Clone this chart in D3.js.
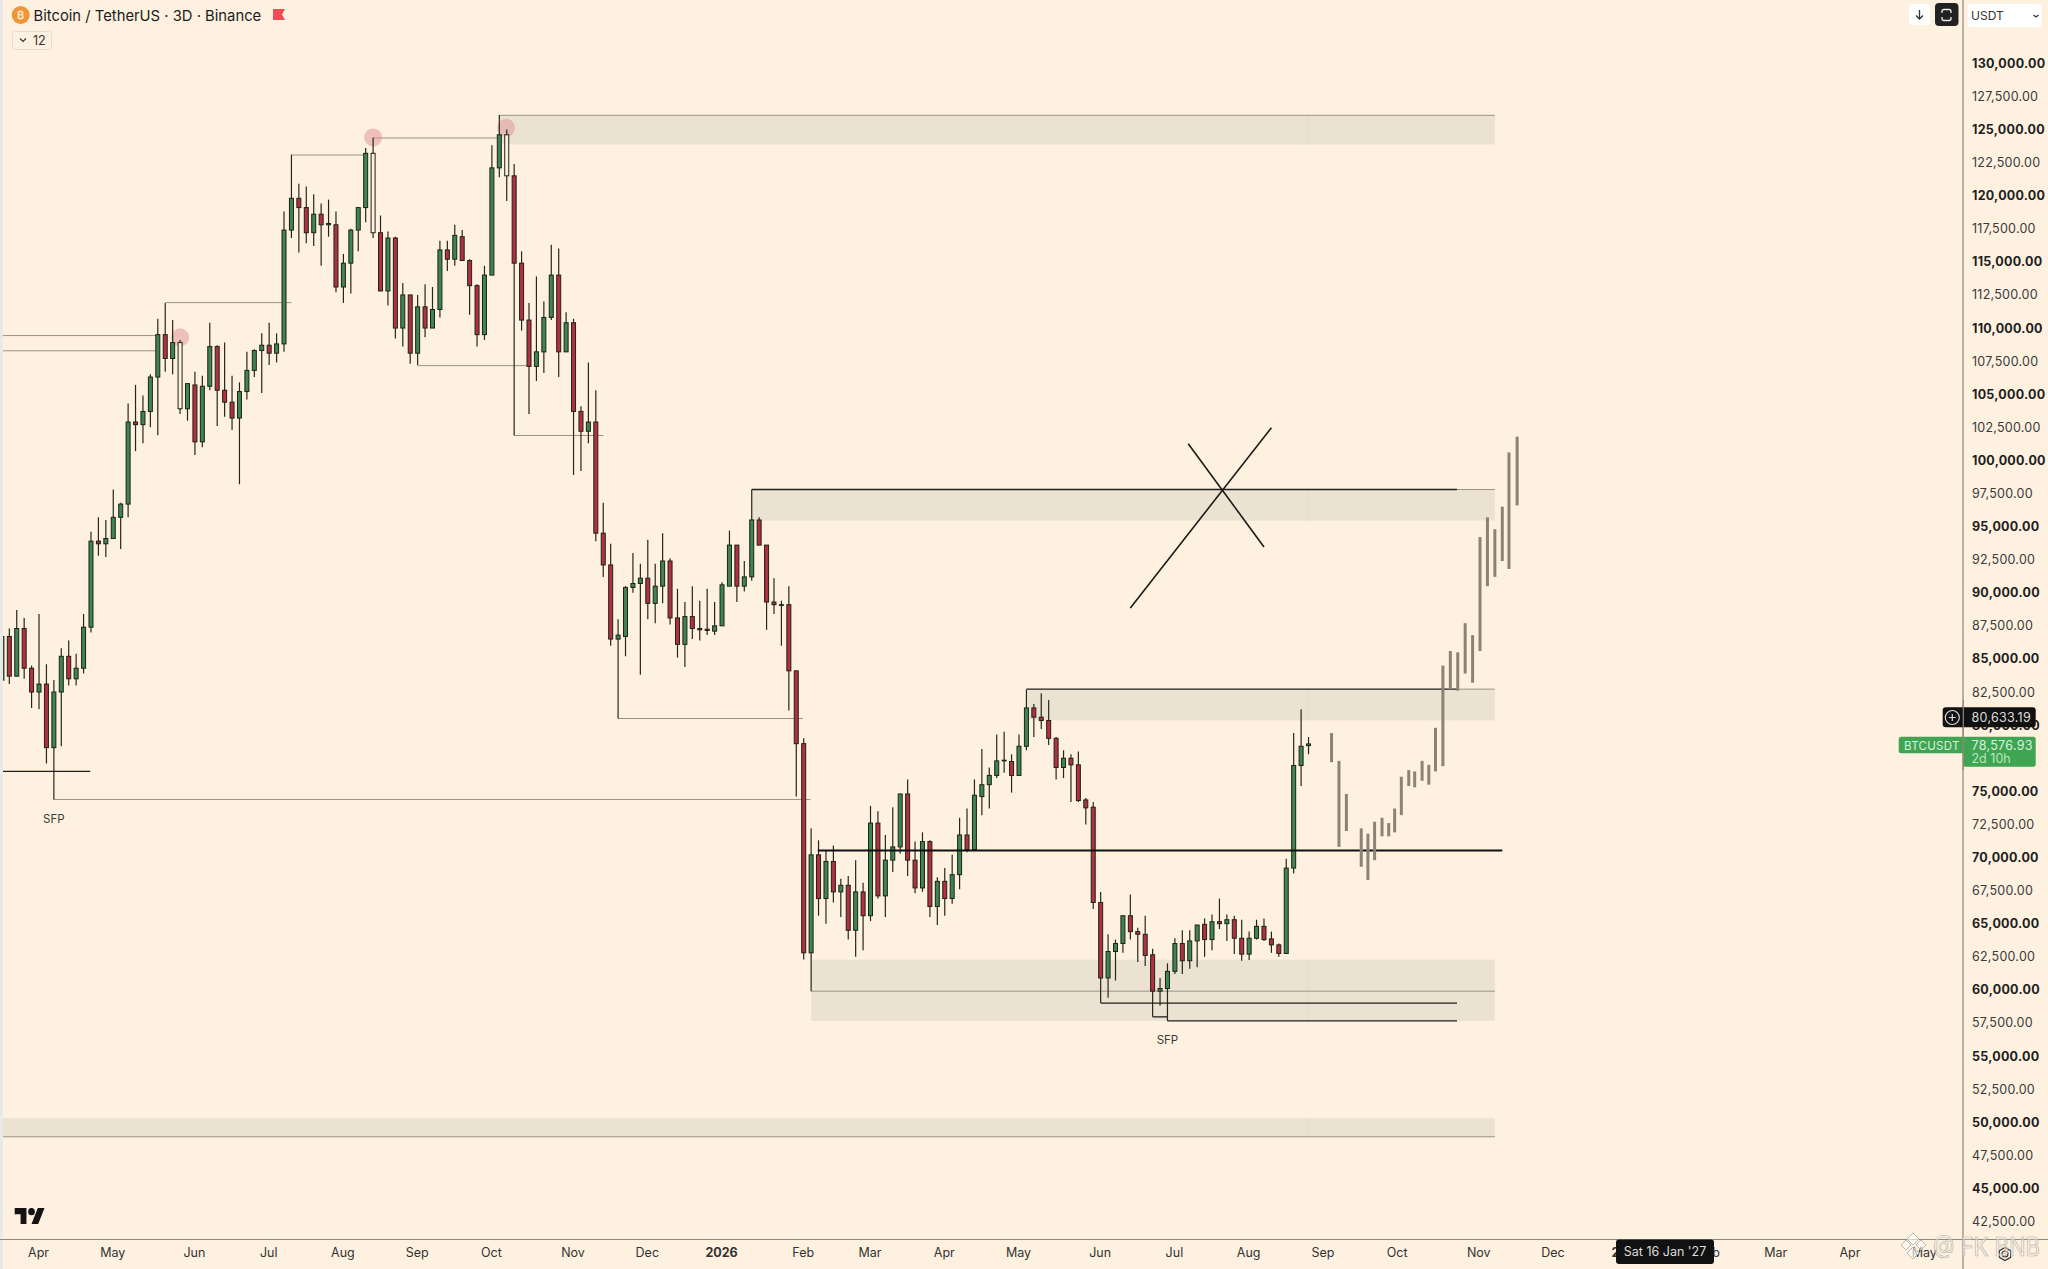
<!DOCTYPE html>
<html>
<head>
<meta charset="utf-8">
<title>BTCUSDT 3D</title>
<script src="https://cdn.jsdelivr.net/npm/d3@7"></script>
<style>
  html, body { margin: 0; padding: 0; background: #fef1e0; }
  svg { display: block; }
  text { font-family: Inter, "Noto Sans", sans-serif; }
</style>
</head>
<body>
<div id="chart"></div>
<script>
// OHLC values, in thousands of USDT
const opens = [
  83.4,86.7,83.7,87.3,84.3,82.5,83.1,78.3,82.5,85.2,
  83.5,84.3,87.4,93.9,93.7,94.1,95.7,96.7,102.9,102.7,
  103.7,106.3,109.5,107.7,103.9,103.9,105.7,101.4,105.6,108.6,
  105.3,104.4,103.2,105.2,106.8,108.3,108.7,108.1,108.8,117.4,
  119.8,119.1,117.2,118.6,117.8,117.8,113.1,114.9,117.4,119.1,
  117.2,117.2,112.8,116.8,110.0,112.5,108.1,111.6,110.0,111.4,
  115.9,115.2,116.9,115.1,113.2,109.5,114.0,122.1,121.5,121.5,
  114.9,110.6,107.1,108.2,110.8,114.0,108.2,110.4,103.7,102.2,
  102.9,94.5,92.1,86.5,86.7,90.4,90.7,91.1,89.2,90.5,
  92.4,88.1,86.1,88.2,87.3,87.25,87.1,87.5,90.5,93.6,
  90.5,91.2,95.5,93.6,89.3,89.1,89.1,84.1,78.6,62.8,
  70.2,66.9,69.7,67.4,67.9,64.5,67.4,65.6,72.6,67.1,
  69.8,70.8,74.8,69.8,67.7,71.2,66.3,68.2,66.9,68.7,
  71.7,70.6,74.6,75.5,76.2,77.35,77.25,76.2,78.4,81.3,
  80.6,80.35,79.0,76.8,77.5,77.0,74.35,73.8,66.6,60.9,
  62.9,63.5,65.6,64.4,64.2,62.65,59.9,60.1,61.4,63.5,
  62.2,63.7,64.95,63.8,65.15,65.0,65.3,63.9,62.7,63.9,
  64.8,63.85,63.4,62.75,69.2,76.95,78.45
];
const closes = [
  86.7,83.7,87.3,84.3,82.5,83.1,78.3,82.5,85.2,83.5,
  84.3,87.4,93.9,93.7,94.1,95.7,96.7,102.9,102.7,103.7,
  106.3,109.5,107.7,108.9,108.9,105.8,101.4,105.6,108.6,105.3,
  104.4,103.2,105.2,106.8,108.3,108.7,108.1,108.8,117.4,119.8,
  119.1,117.2,118.6,117.8,117.9,113.1,114.9,117.4,119.1,123.2,
  123.2,112.8,116.8,110.0,112.5,108.1,111.6,110.0,111.4,115.9,
  115.2,117.0,115.1,113.2,109.5,114.0,122.1,124.6,124.6,114.9,
  110.6,107.1,108.2,110.8,114.0,108.2,110.4,103.7,102.2,102.9,
  94.5,92.1,86.5,86.8,90.4,90.7,91.1,89.2,90.5,92.4,
  88.1,86.1,88.2,87.3,87.2,87.15,87.5,90.6,93.6,90.5,
  91.2,95.5,93.6,89.3,89.1,89.05,84.1,78.6,62.8,70.2,
  66.9,69.7,67.4,67.9,64.5,67.4,65.6,72.6,67.1,69.8,
  70.8,74.8,69.8,67.7,71.2,66.3,68.2,66.9,68.7,71.7,
  70.6,74.7,75.5,76.2,77.3,77.3,76.2,78.4,81.3,80.6,
  80.35,79.0,76.8,77.5,77.0,74.3,73.75,66.6,60.9,62.9,
  63.5,65.6,64.4,64.2,62.6,59.9,60.1,61.4,63.5,62.2,
  63.7,64.9,63.8,65.15,65.0,65.3,63.9,62.7,63.9,64.8,
  63.8,63.4,62.75,69.2,76.95,78.4,78.58
];
const highs = [
  86.9,87.3,88.7,88.1,84.5,88.4,84.6,83.4,85.8,86.4,
  85.4,88.4,94.6,95.7,95.5,97.8,96.8,104.3,105.7,104.9,
  106.5,110.7,111.9,110.6,109.1,105.8,106.7,106.4,110.4,108.7,
  108.9,106.4,105.9,108.2,108.4,109.6,110.4,109.6,118.8,123.1,
  120.9,120.7,120.1,119.4,119.7,118.8,115.6,117.5,119.1,123.6,
  124.4,118.5,117.3,116.9,113.4,112.5,112.5,113.3,113.1,116.6,
  116.6,117.8,117.4,115.2,113.3,114.7,123.8,126.1,125.0,122.4,
  115.8,111.9,113.9,112.0,116.3,116.0,111.2,110.7,104.1,107.4,
  105.3,96.8,93.7,88.0,90.5,93.0,92.2,94.0,92.2,94.5,
  92.6,90.3,89.3,90.5,89.4,90.3,89.3,90.8,94.7,93.6,
  92.4,97.8,95.7,93.6,91.1,89.4,90.5,84.1,79.0,72.2,
  71.3,70.5,70.9,68.4,68.6,69.8,68.1,73.9,73.5,71.7,
  73.8,74.8,75.9,71.2,71.9,71.3,68.5,69.2,70.2,73.0,
  73.7,75.9,78.2,76.8,79.3,79.5,77.8,79.3,82.7,81.6,
  82.4,81.9,79.1,78.1,77.8,78.0,74.5,74.2,67.4,64.2,
  63.8,65.6,67.2,64.7,65.6,63.1,60.9,62.0,63.9,64.5,
  64.5,64.9,65.4,65.7,66.9,65.7,65.6,65.3,64.4,65.3,
  65.4,64.4,63.5,69.9,79.4,81.2,79.1
];
const lows = [
  82.4,83.1,83.7,83.5,81.3,81.2,77.1,74.38,78.4,83.0,
  83.0,83.9,87.0,92.8,92.7,94.1,93.3,95.7,100.7,101.3,
  102.5,101.9,106.7,106.5,103.5,103.0,100.4,101.0,105.3,102.6,
  103.3,102.3,98.2,104.6,106.3,105.1,107.2,107.4,108.2,116.8,
  115.7,116.4,116.2,114.7,116.9,112.7,111.9,112.6,115.8,118.0,
  116.8,112.8,111.7,109.2,108.6,107.3,107.2,109.3,110.0,110.8,
  114.3,114.7,115.1,111.0,108.6,109.1,114.0,121.4,119.6,101.88,
  109.8,103.5,106.0,106.6,110.6,106.3,108.2,98.9,99.2,101.3,
  93.9,91.2,86.0,80.5,85.2,90.0,83.8,88.0,87.7,89.2,
  87.6,85.1,84.4,86.5,86.4,86.8,86.8,87.5,90.5,89.3,
  90.1,90.9,93.6,87.2,88.4,86.0,81.1,74.6,62.3,59.9,
  65.6,65.0,66.6,65.5,63.8,62.5,63.0,65.2,66.9,65.5,
  68.9,70.3,68.6,67.3,67.4,65.5,64.9,65.6,66.5,67.6,
  70.4,70.5,73.2,73.7,76.0,76.4,74.9,76.2,78.1,79.1,
  79.7,78.5,75.9,76.0,74.2,74.2,72.5,66.1,59.0,59.4,
  60.7,62.8,63.8,62.1,61.8,57.96,58.8,57.66,61.2,61.2,
  61.6,61.7,62.5,63.0,64.6,63.7,62.7,62.2,62.25,63.8,
  63.7,62.8,62.5,62.7,68.8,75.4,77.8
];
const hollowBars = [24, 50, 68];

// Hand drawn projection: bar slot, high, low
const projSlots = [179.1,180.1,181.1,183.1,184,184.9,185.9,186.8,187.6,188.5,189.5,190.3,191.3,192.2,193.1,194.1,195.1,196.1,197.1,198.1,199.1,200.1,201.1,202.1,203,204.1];
const projHighs = [79.4,77.3,74.8,72.2,71.8,72.7,73.0,72.6,73.7,76.1,76.6,76.5,77.3,77.0,79.8,84.5,85.6,85.5,87.7,86.8,94.2,95.7,94.8,96.5,100.6,101.8];
const projLows = [77.2,70.8,72.0,69.3,68.3,69.8,71.6,71.6,71.9,73.2,75.4,75.3,75.8,75.5,76.5,76.9,82.7,82.6,83.9,83.2,85.6,90.5,91.2,92.4,91.8,96.6];

// Supply / demand boxes: first bar, last bar, top, bottom
const zones = [
  [67, 201.1, 126.07, 123.87],
  [101, 201.1, 97.8, 95.45],
  [138, 201.1, 82.72, 80.36],
  [109, 201.1, 62.28, 57.66],
  [0, 201.1, 50.3, 48.9]
];

// Horizontal levels: first bar, last bar, price
const grayLevels = [
  [0, 20.9, 109.43], [0, 20.9, 108.28], [22, 39, 111.92], [39, 49.2, 123.07],
  [50, 67, 124.36], [56, 70.7, 107.16], [69, 81, 101.88], [83, 107.9, 80.5],
  [7, 108.9, 74.38], [109, 201.1, 59.9], [67, 201.1, 126.07], [196, 201.1, 97.8],
  [196, 201.1, 82.72], [0, 201.1, 48.9]
];
const blackLevels = [
  [0, 11.9, 76.5], [148, 196, 59.0], [157, 196, 57.66], [155, 157, 57.96],
  [101, 196, 97.8], [138, 196, 82.72]
];
const mainLevel = [109.9, 202.1, 70.52];

// The big X: two strokes, bar and price at each end
const crossStrokes = [
  [152, 88.85, 171, 102.47],
  [159.8, 101.26, 170, 93.46]
];
// Pink markers on the highs
const markers = [[24, 109.3], [50, 124.4], [67.9, 125.13]];

const priceTicks = [130,127.5,125,122.5,120,117.5,115,112.5,110,107.5,105,102.5,100,97.5,95,92.5,90,87.5,85,82.5,80,77.5,75,72.5,70,67.5,65,62.5,60,57.5,55,52.5,50,47.5,45,42.5];
const timeTicks = [5,15,26,36,46,56,66,77,87,97,108,117,127,137,148,158,168,178,188,199,209,219,230,239,249,259];
const timeLabels = ["Apr","May","Jun","Jul","Aug","Sep","Oct","Nov","Dec","2026","Feb","Mar","Apr","May","Jun","Jul","Aug","Sep","Oct","Nov","Dec","2027","Feb","Mar","Apr","May"];

const bg = "#fef1e0";
const width = 2048;
const height = 1269;

const svg = d3.select("#chart").append("svg").attr("width", width).attr("height", height);
svg.append("rect").attr("width", width).attr("height", height).attr("fill", bg);

// Scales
const x = d3.scaleLinear().domain([0, 260]).range([1.9, 1.9 + 260 * 7.424]);
const y = d3.scaleLinear().domain([130, 42.5]).range([63.3, 1221.5]);

// Zones
svg.append("g").selectAll("rect").data(zones).enter().append("rect")
  .attr("x", (d) => x(d[0]))
  .attr("width", (d) => x(d[1]) - x(d[0]))
  .attr("y", (d) => y(d[2]))
  .attr("height", (d) => y(d[3]) - y(d[2]))
  .attr("fill", "#ebe2d2");

// faint seam in the boxes
svg.append("g").selectAll("line").data(zones).enter().append("line")
  .attr("x1", x(176)).attr("x2", x(176))
  .attr("y1", (d) => y(d[2])).attr("y2", (d) => y(d[3]))
  .attr("stroke", "#e4dac8").attr("stroke-width", 1);

function drawLevels(data, color, w) {
  svg.append("g").selectAll("line").data(data).enter().append("line")
    .attr("x1", (d) => x(d[0]))
    .attr("x2", (d) => x(d[1]))
    .attr("y1", (d) => y(d[2]))
    .attr("y2", (d) => y(d[2]))
    .attr("stroke", color)
    .attr("stroke-width", w);
}
drawLevels(grayLevels, "#9a9385", 1);

// Pink circles
svg.append("g").selectAll("circle").data(markers).enter().append("circle")
  .attr("cx", (d) => x(d[0]))
  .attr("cy", (d) => y(d[1]))
  .attr("r", 9)
  .attr("fill", "#df8f95")
  .attr("opacity", 0.5);

// Candles
const candles = opens.map((o, i) => ({ i, o, c: closes[i], h: highs[i], l: lows[i], hollow: hollowBars.includes(i) }));
const cg = svg.append("g");
cg.selectAll(".wick").data(candles).enter().append("line")
  .attr("class", "wick")
  .attr("x1", (d) => x(d.i)).attr("x2", (d) => x(d.i))
  .attr("y1", (d) => y(d.h)).attr("y2", (d) => y(d.l))
  .attr("stroke", "#26261c")
  .attr("stroke-width", 1.2);
cg.selectAll(".body").data(candles).enter().append("rect")
  .attr("class", "body")
  .attr("x", (d) => x(d.i) - 2)
  .attr("width", 4)
  .attr("y", (d) => y(Math.max(d.o, d.c)))
  .attr("height", (d) => Math.max(0.5, Math.abs(y(d.o) - y(d.c))))
  .attr("fill", (d) => (d.hollow ? bg : d.c >= d.o ? "#3f8551" : "#b3303f"))
  .attr("stroke", "#1d2219")
  .attr("stroke-width", 1);

drawLevels(blackLevels, "#1f1f1a", 1.3);
drawLevels([mainLevel], "#111", 2);

// Projected path
svg.append("g").selectAll("line").data(projSlots).enter().append("line")
  .attr("x1", (d) => x(d)).attr("x2", (d) => x(d))
  .attr("y1", (d, i) => y(projHighs[i]))
  .attr("y2", (d, i) => y(projLows[i]))
  .attr("stroke", "#8b8375")
  .attr("stroke-width", 3);

// X mark
svg.append("g").selectAll("line").data(crossStrokes).enter().append("line")
  .attr("x1", (d) => x(d[0])).attr("y1", (d) => y(d[1]))
  .attr("x2", (d) => x(d[2])).attr("y2", (d) => y(d[3]))
  .attr("stroke", "#1a1a16")
  .attr("stroke-width", 1.6);

// SFP labels
svg.append("text").attr("x", x(7)).attr("y", y(74.38) + 23).attr("text-anchor", "middle")
  .attr("font-size", 11.5).attr("fill", "#3a3a36").text("SFP");
svg.append("text").attr("x", x(157)).attr("y", y(57.66) + 23).attr("text-anchor", "middle")
  .attr("font-size", 11.5).attr("fill", "#3a3a36").text("SFP");

// Left edge strip
svg.append("rect").attr("width", 3).attr("height", height).attr("fill", "#e9e9e9");

// Price axis
const yAxis = svg.append("g")
  .attr("transform", "translate(1963,0)")
  .call(d3.axisRight(y).tickValues(priceTicks).tickSize(0).tickPadding(9)
    .tickFormat((d) => d3.format(",.2f")(d * 1000)));
yAxis.select(".domain").attr("stroke", "#8e887c").attr("stroke-width", 1.2).attr("d", "M0,0V1269");
yAxis.selectAll("text")
  .attr("font-family", "Inter, sans-serif")
  .attr("font-size", 12.5)
  .attr("letter-spacing", 0.25)
  .attr("font-weight", (d) => (d % 5 === 0 ? 700 : 400))
  .attr("fill", (d) => (d % 5 === 0 ? "#1e1e1e" : "#3a3a3a"));

// Time axis
const xAxis = svg.append("g")
  .attr("transform", "translate(-1,1239.5)")
  .call(d3.axisBottom(x).tickValues(timeTicks).tickSize(0).tickPadding(9)
    .tickFormat((d, i) => timeLabels[i]));
xAxis.select(".domain").attr("stroke", "#8e887c").attr("stroke-width", 1.2).attr("d", "M0,0H2049");
xAxis.selectAll("text")
  .attr("font-family", "Inter, sans-serif")
  .attr("font-size", 12.5)
  .attr("font-weight", (d, i) => (/^\d/.test(timeLabels[i]) ? 700 : 400))
  .attr("fill", "#333");

// Crosshair date
svg.append("rect").attr("x", 1616).attr("y", 1239.5).attr("width", 98).attr("height", 24.5).attr("rx", 3).attr("fill", "#111");
svg.append("text").attr("x", 1665).attr("y", 1256).attr("text-anchor", "middle")
  .attr("font-size", 12.5).attr("fill", "#ddd").text("Sat 16 Jan '27");

// Crosshair price
svg.append("rect").attr("x", 1942.7).attr("y", 707.3).attr("width", 93).attr("height", 20).attr("rx", 3).attr("fill", "#111");
svg.append("circle").attr("cx", 1952.3).attr("cy", 717.5).attr("r", 7).attr("fill", "none").attr("stroke", "#ddd").attr("stroke-width", 1.2);
svg.append("path").attr("d", "M1948.8,717.5h7M1952.3,714v7").attr("stroke", "#ddd").attr("stroke-width", 1.2);
svg.append("text").attr("x", 1971.5).attr("y", 722).attr("font-size", 12.5).attr("letter-spacing", 0.3).attr("fill", "#ddd").text("80,633.19");

// Last price
svg.append("rect").attr("x", 1898.7).attr("y", 736.7).attr("width", 68).attr("height", 16.5).attr("rx", 2.5).attr("fill", "#3fa552");
svg.append("rect").attr("x", 1963.3).attr("y", 736.7).attr("width", 72.4).attr("height", 30).attr("rx", 2.5).attr("fill", "#3fa552");
svg.append("text").attr("x", 1904).attr("y", 749.5).attr("font-size", 11.5).attr("letter-spacing", 0.3).attr("fill", "#d8f2dc").text("BTCUSDT");
svg.append("text").attr("x", 1971.5).attr("y", 749.5).attr("font-size", 12.5).attr("letter-spacing", 0.3).attr("fill", "#d8f2dc").text("78,576.93");
svg.append("text").attr("x", 1971.5).attr("y", 763).attr("font-size", 12.5).attr("fill", "#b9e6c0").text("2d 10h");
svg.append("line").attr("x1", 1963.3).attr("x2", 1963.3).attr("y1", 700).attr("y2", 770).attr("stroke", "#8e887c").attr("stroke-width", 1.2);

// Header
svg.append("circle").attr("cx", 20.7).attr("cy", 15).attr("r", 9).attr("fill", "#ee9439");
svg.append("text").attr("x", 20.7).attr("y", 19).attr("text-anchor", "middle").attr("font-size", 11).attr("font-weight", 700).attr("fill", "#fde3c0").text("₿");
svg.append("text").attr("x", 33.5).attr("y", 20.5).attr("font-size", 14.8).attr("fill", "#1c1c1c").text("Bitcoin / TetherUS · 3D · Binance");
svg.append("path").attr("d", "M273,9H285L282,14.5L285,20H273Z").attr("fill", "#f04c57");
svg.append("rect").attr("x", 12.5).attr("y", 31.5).attr("width", 39).attr("height", 18).attr("rx", 3).attr("fill", "none").attr("stroke", "#e4dccd");
svg.append("path").attr("d", "M20,38.5l3,3l3,-3").attr("fill", "none").attr("stroke", "#333").attr("stroke-width", 1.2);
svg.append("text").attr("x", 33).attr("y", 45).attr("font-size", 12.5).attr("fill", "#333").text("12");

// Top right buttons
svg.append("rect").attr("x", 1909).attr("y", 4).attr("width", 21).attr("height", 21).attr("rx", 3).attr("fill", "#fff");
svg.append("path").attr("d", "M1919.5,10v9M1916,15.5l3.5,3.5l3.5,-3.5").attr("fill", "none").attr("stroke", "#333").attr("stroke-width", 1.3);
svg.append("rect").attr("x", 1935).attr("y", 3).attr("width", 23.5).attr("height", 23).attr("rx", 4).attr("fill", "#222");
svg.append("path").attr("d", "M1942,13v-1.5a2,2 0 0 1 2,-2h5a2,2 0 0 1 2,2v1.5M1942,17v1.5a2,2 0 0 0 2,2h5a2,2 0 0 0 2,-2v-1.5").attr("fill", "none").attr("stroke", "#eee").attr("stroke-width", 1.3);
svg.append("rect").attr("x", 1967.7).attr("y", 4).attr("width", 74).attr("height", 23).attr("rx", 3).attr("fill", "#fff");
svg.append("text").attr("x", 1971).attr("y", 20).attr("font-size", 12).attr("fill", "#333").text("USDT");
svg.append("path").attr("d", "M2033.5,15l2.5,2l2.5,-2").attr("fill", "none").attr("stroke", "#333").attr("stroke-width", 1.2);

// TV logo
svg.append("g").attr("transform", "translate(14.7,1204.6) scale(0.84,0.88)")
  .call((g) => {
    g.append("path").attr("d", "M14 22H7V11H0V4h14v18zM28 22h-8l7.5-18h8L28 22z").attr("fill", "#131313");
    g.append("circle").attr("cx", 20).attr("cy", 8).attr("r", 4).attr("fill", "#131313");
  });

// Settings gear at the axis corner
svg.append("circle").attr("cx", 2005).attr("cy", 1254).attr("r", 3).attr("fill", "none").attr("stroke", "#333").attr("stroke-width", 1.2);
svg.append("path").attr("d", "M2005,1247.5l5.6,3.2v6.6l-5.6,3.2l-5.6,-3.2v-6.6z").attr("fill", "none").attr("stroke", "#333").attr("stroke-width", 1.2);

// Watermark
svg.append("path").attr("d", "M1901,1245l5,-5l5,5l-5,5zM1913,1233l6,6l-6,6l-6,-6zM1913,1247l6,6l-6,6l-6,-6zM1921,1240l5,5l-5,5l-5,-5z")
  .attr("fill", "rgba(255,255,255,0.6)").attr("stroke", "#bdb8ae").attr("stroke-width", 1);
svg.append("text").attr("x", 1933).attr("y", 1256).attr("font-size", 25)
  .attr("textLength", 107).attr("lengthAdjust", "spacingAndGlyphs")
  .attr("fill", "rgba(255,255,255,0.45)").attr("stroke", "#b5b0a6").attr("stroke-width", 0.7).text("@ FK BNB");
</script>
</body>
</html>
